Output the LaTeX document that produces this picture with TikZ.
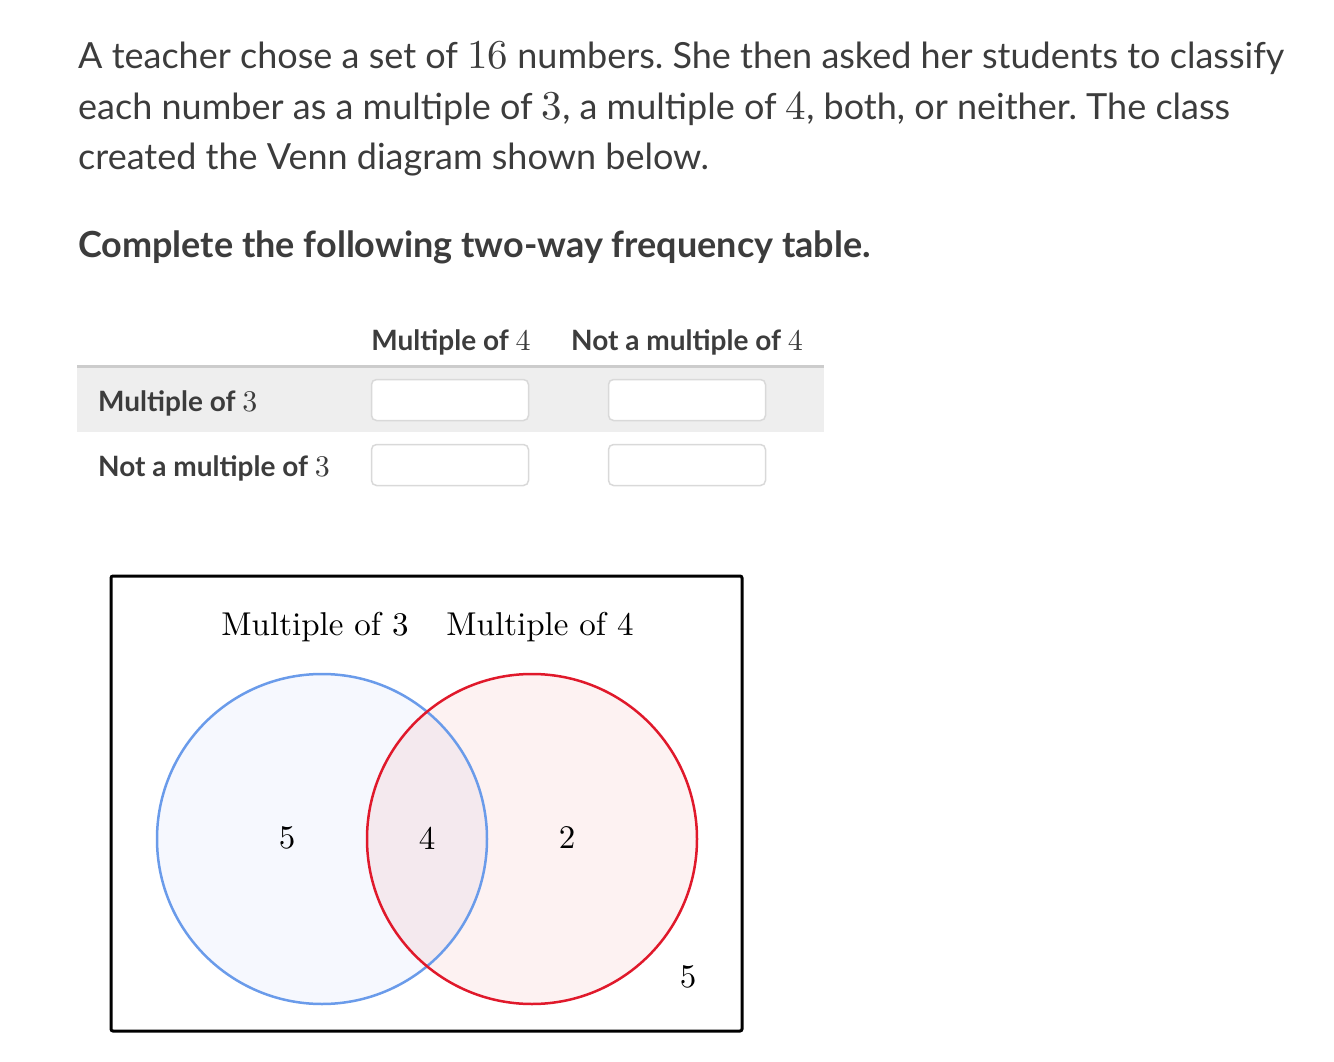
\documentclass[tikz,border=0pt]{standalone}
\usepackage{fontspec}
\newfontfamily\lato{Lato}
\newfontfamily\cmten{lmroman10-regular.otf}
\frenchspacing
\definecolor{txt}{HTML}{3C3C3C}
\definecolor{rowbg}{HTML}{EEEEEE}
\definecolor{rule}{HTML}{CCCCCC}
\definecolor{boxline}{HTML}{D9D9D9}
\definecolor{bluec}{HTML}{6A9BEA}
\definecolor{bluefill}{HTML}{F6F8FE}
\definecolor{redc}{HTML}{E0192B}
\definecolor{redfill}{HTML}{FDF2F2}
\definecolor{bothfill}{HTML}{F4E9EE}
\newcommand\dgb[1]{{\cmten\fontsize{41}{44}\selectfont #1}}
\newcommand\dgt[1]{{\cmten\fontsize{30}{32}\selectfont #1}}
\tikzset{
  body/.style={font=\lato\fontsize{36}{40}\selectfont, text=txt, inner sep=0pt, anchor=base west},
  bodybold/.style={font=\lato\bfseries\fontsize{36}{40}\selectfont, text=txt, inner sep=0pt, anchor=base west},
  tablab/.style={font=\lato\bfseries\fontsize{28}{32}\selectfont, text=txt, inner sep=0pt},
  inbox/.style={draw=boxline, fill=white, line width=1.5pt, rounded corners=5pt, minimum width=157pt, minimum height=41pt, inner sep=0pt},
  venntxt/.style={font=\cmten\fontsize{33}{38}\selectfont, text=black, inner sep=0pt},
  setc/.style={circle, minimum size=330pt, inner sep=0pt}
}
\begin{document}
\begin{tikzpicture}[x=1pt,y=-1pt]
\useasboundingbox (0,0) rectangle (1334,1062);
% question text
\node[body] (l1) at (78,69) {A teacher chose a set of \dgb{16} numbers. She then asked her students to classify};
\node[body] (l2) at (78,120) {each number as a multiple of \dgb{3}, a multiple of \dgb{4}, both, or neither. The class};
\node[body] (l3) at (78,170) {created the Venn diagram shown below.};
\node[bodybold] (task) at (78,257) {Complete the following two-way frequency table.};
% table
\fill[rowbg] (77,367) rectangle (824,432);
\draw[rule, line width=3pt] (77,366) -- (824,366);
\node[tablab, anchor=base] (h1) at (451,350) {Multiple of \dgt{4}};
\node[tablab, anchor=base] (h2) at (687,350) {Not a multiple of \dgt{4}};
\node[tablab, anchor=base west] (r1) at (98,411) {Multiple of \dgt{3}};
\node[tablab, anchor=base west] (r2) at (98,476) {Not a multiple of \dgt{3}};
\node[inbox] (b11) at (450,400) {};
\node[inbox] (b12) at (687,400) {};
\node[inbox] (b21) at (450,465) {};
\node[inbox] (b22) at (687,465) {};
% venn diagram
\draw[black, line width=3pt, rounded corners=2pt] (111,576) rectangle (742,1031);
\node[venntxt] (t3) at (315,627) {Multiple of 3};
\node[venntxt] (t4) at (540,627) {Multiple of 4};
\node[setc, fill=bluefill] (A) at (322,839) {};
\node[setc, fill=redfill] (B) at (532,839) {};
\begin{scope}
  \clip (A.center) circle (165pt);
  \fill[bothfill] (B.center) circle (165pt);
\end{scope}
\draw[bluec, line width=2.5pt] (A.center) circle (165pt);
\draw[redc, line width=2.5pt] (B.center) circle (165pt);
\node[venntxt] (nA) at (287,838) {5};
\node[venntxt] (nAB) at (427,838) {4};
\node[venntxt] (nB) at (567,838) {2};
\node[venntxt] (nN) at (688,977) {5};
\end{tikzpicture}
\end{document}
